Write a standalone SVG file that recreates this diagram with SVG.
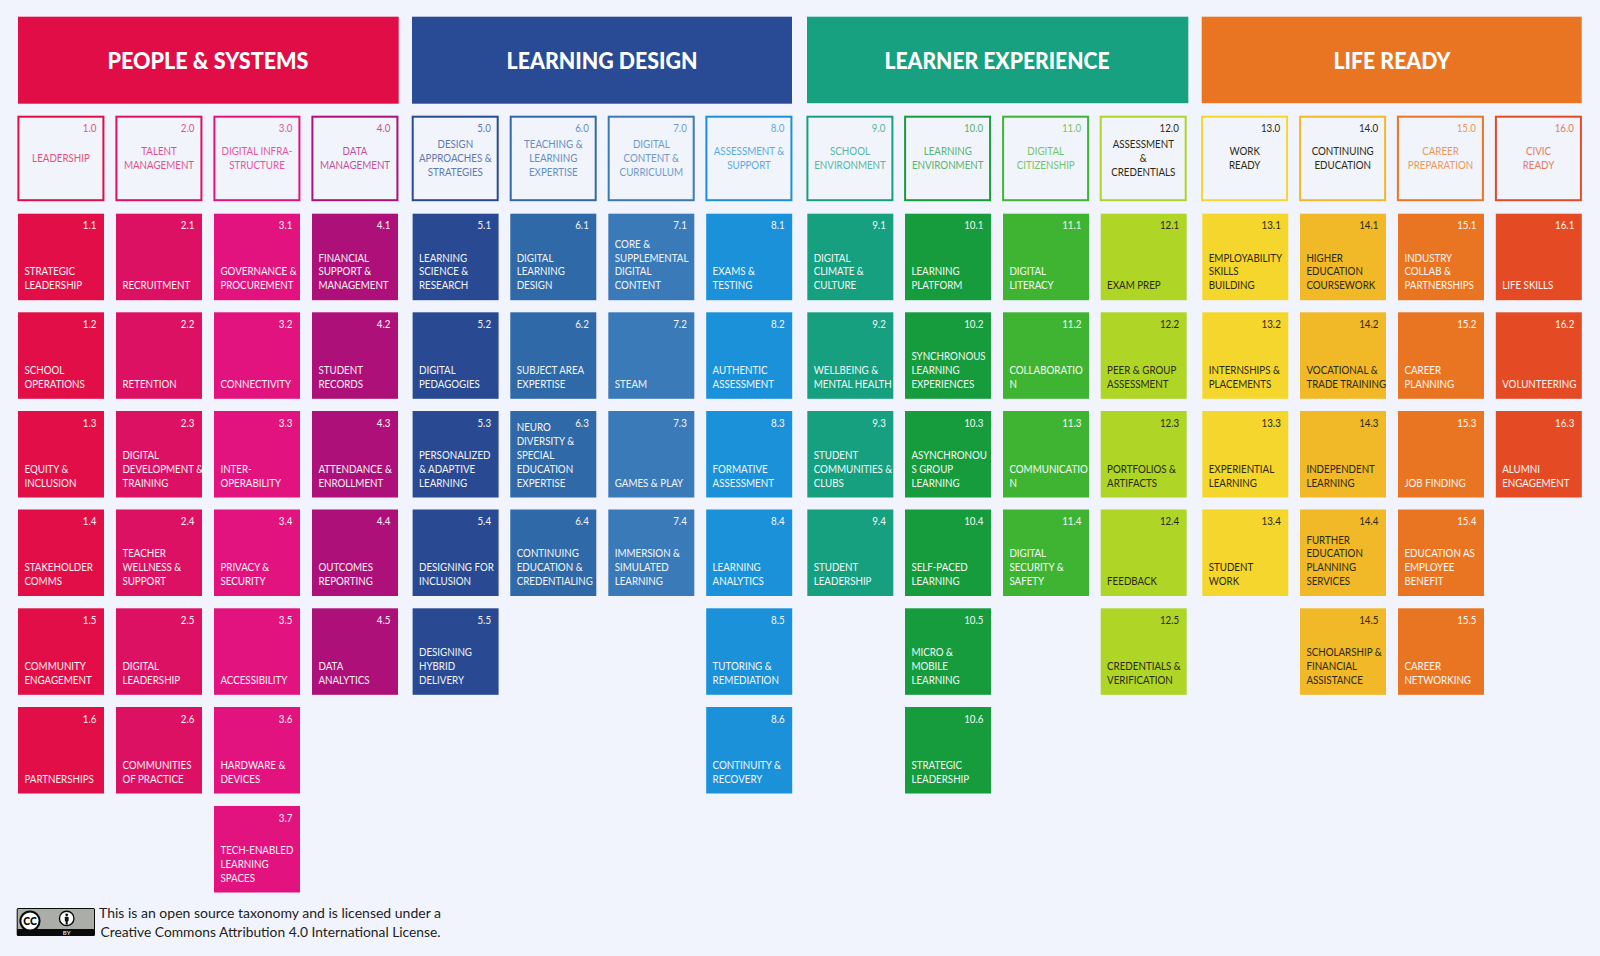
<svg xmlns="http://www.w3.org/2000/svg" width="1600" height="956" viewBox="0 0 1600 956">
<style>
text{font-family:"Lato","Noto Sans",sans-serif;font-size:11.5px}
.h text{font-size:22px;font-weight:900;fill:#fff;text-anchor:middle}
.s rect{fill:#f1f4fb;stroke:currentColor;stroke-width:2}
.s text{fill:currentColor;opacity:.72}
.k rect{fill:currentColor}
.k text{fill:#fff;opacity:.94}
.n{text-anchor:end;transform:translate(78.5px,0) scale(.85,1)}
.l{transform:translate(6.4px,0) scale(.85,1)}
.m{text-anchor:middle;transform:translate(43px,0) scale(.85,1)}
.c1{color:#e20e47}.c2{color:#dd1163}.c3{color:#e2137e}.c4{color:#ae1079}
.c5{color:#294a93}.c6{color:#2f69a8}.c7{color:#3b7ab9}.c8{color:#1a91d9}
.c9{color:#17a07f}.c10{color:#169c3c}.c11{color:#3fb433}.c12{color:#afd527}
.c13{color:#f5d62c}.c14{color:#f1b827}.c15{color:#e97522}.c16{color:#e44b25}
.c12 text,.c13 text,.c14 text{fill:#2b2b14;opacity:1}
.f{font-size:14px;fill:#222}
</style>
<rect width="1600" height="956" fill="#f1f4fc"/>
<g id="header-1" class="h"><rect x="18" y="16.7" width="380.7" height="87" fill="#e00d47"/><text x="208" y="69" textLength="201" lengthAdjust="spacingAndGlyphs">PEOPLE &amp; SYSTEMS</text></g>
<g id="header-2" class="h"><rect x="412" y="16.7" width="380" height="87" fill="#294b95"/><text x="602" y="69" textLength="191" lengthAdjust="spacingAndGlyphs">LEARNING DESIGN</text></g>
<g id="header-3" class="h"><rect x="807" y="16.7" width="381.3" height="86.5" fill="#17a180"/><text x="997" y="68.5" textLength="225" lengthAdjust="spacingAndGlyphs">LEARNER EXPERIENCE</text></g>
<g id="header-4" class="h"><rect x="1201.7" y="16.7" width="380" height="86.5" fill="#e97522"/><text x="1392" y="68.5" textLength="117" lengthAdjust="spacingAndGlyphs">LIFE READY</text></g>

<g id="n1-0" class="s c1" transform="translate(18 115.7)"><rect x=".4" y="1" width="85" height="83.5"/><text class="n" y="16">1.0</text><text class="m" y="46.2">LEADERSHIP</text></g>
<g id="n2-0" class="s c2" transform="translate(116 115.7)"><rect x=".4" y="1" width="85" height="83.5"/><text class="n" y="16">2.0</text><text class="m" y="39.3">TALENT</text><text class="m" y="53">MANAGEMENT</text></g>
<g id="n3-0" class="s c3" transform="translate(214 115.7)"><rect x=".4" y="1" width="85" height="83.5"/><text class="n" y="16">3.0</text><text class="m" y="39.3">DIGITAL INFRA-</text><text class="m" y="53">STRUCTURE</text></g>
<g id="n4-0" class="s c4" transform="translate(312 115.7)"><rect x=".4" y="1" width="85" height="83.5"/><text class="n" y="16">4.0</text><text class="m" y="39.3">DATA</text><text class="m" y="53">MANAGEMENT</text></g>
<g id="n5-0" class="s c5" transform="translate(412.3 115.7)"><rect x=".4" y="1" width="85" height="83.5"/><text class="n" y="16">5.0</text><text class="m" y="32.6">DESIGN</text><text class="m" y="46.4">APPROACHES &amp;</text><text class="m" y="60.2">STRATEGIES</text></g>
<g id="n6-0" class="s c6" transform="translate(510.3 115.7)"><rect x=".4" y="1" width="85" height="83.5"/><text class="n" y="16">6.0</text><text class="m" y="32.6">TEACHING &amp;</text><text class="m" y="46.4">LEARNING</text><text class="m" y="60.2">EXPERTISE</text></g>
<g id="n7-0" class="s c7" transform="translate(608.3 115.7)"><rect x=".4" y="1" width="85" height="83.5"/><text class="n" y="16">7.0</text><text class="m" y="32.6">DIGITAL</text><text class="m" y="46.4">CONTENT &amp;</text><text class="m" y="60.2">CURRICULUM</text></g>
<g id="n8-0" class="s c8" transform="translate(706 115.7)"><rect x=".4" y="1" width="85" height="83.5"/><text class="n" y="16">8.0</text><text class="m" y="39.3">ASSESSMENT &amp;</text><text class="m" y="53">SUPPORT</text></g>
<g id="n9-0" class="s c9" transform="translate(807 115.7)"><rect x=".4" y="1" width="85" height="83.5"/><text class="n" y="16">9.0</text><text class="m" y="39.3">SCHOOL</text><text class="m" y="53">ENVIRONMENT</text></g>
<g id="n10-0" class="s c10" transform="translate(904.7 115.7)"><rect x=".4" y="1" width="85" height="83.5"/><text class="n" y="16">10.0</text><text class="m" y="39.3">LEARNING</text><text class="m" y="53">ENVIRONMENT</text></g>
<g id="n11-0" class="s c11" transform="translate(1002.7 115.7)"><rect x=".4" y="1" width="85" height="83.5"/><text class="n" y="16">11.0</text><text class="m" y="39.3">DIGITAL</text><text class="m" y="53">CITIZENSHIP</text></g>
<g id="n12-0" class="s c12" transform="translate(1100.3 115.7)"><rect x=".4" y="1" width="85" height="83.5"/><text class="n" y="16">12.0</text><text class="m" y="32.6">ASSESSMENT</text><text class="m" y="46.4">&amp;</text><text class="m" y="60.2">CREDENTIALS</text></g>
<g id="n13-0" class="s c13" transform="translate(1201.7 115.7)"><rect x=".4" y="1" width="85" height="83.5"/><text class="n" y="16">13.0</text><text class="m" y="39.3">WORK</text><text class="m" y="53">READY</text></g>
<g id="n14-0" class="s c14" transform="translate(1299.7 115.7)"><rect x=".4" y="1" width="85" height="83.5"/><text class="n" y="16">14.0</text><text class="m" y="39.3">CONTINUING</text><text class="m" y="53">EDUCATION</text></g>
<g id="n15-0" class="s c15" transform="translate(1397.5 115.7)"><rect x=".4" y="1" width="85" height="83.5"/><text class="n" y="16">15.0</text><text class="m" y="39.3">CAREER</text><text class="m" y="53">PREPARATION</text></g>
<g id="n16-0" class="s c16" transform="translate(1495.5 115.7)"><rect x=".4" y="1" width="85" height="83.5"/><text class="n" y="16">16.0</text><text class="m" y="39.3">CIVIC</text><text class="m" y="53">READY</text></g>

<g id="n1-1" class="k c1" transform="translate(18 213.7)"><rect width="86" height="86.5"/><text class="n" y="15.7">1.1</text><text class="l" y="61.8">STRATEGIC</text><text class="l" y="75.6">LEADERSHIP</text></g>
<g id="n1-2" class="k c1" transform="translate(18 312.3)"><rect width="86" height="86.5"/><text class="n" y="15.7">1.2</text><text class="l" y="61.8">SCHOOL</text><text class="l" y="75.6">OPERATIONS</text></g>
<g id="n1-3" class="k c1" transform="translate(18 411)"><rect width="86" height="86.5"/><text class="n" y="15.7">1.3</text><text class="l" y="61.8">EQUITY &amp;</text><text class="l" y="75.6">INCLUSION</text></g>
<g id="n1-4" class="k c1" transform="translate(18 509.5)"><rect width="86" height="86.5"/><text class="n" y="15.7">1.4</text><text class="l" y="61.8">STAKEHOLDER</text><text class="l" y="75.6">COMMS</text></g>
<g id="n1-5" class="k c1" transform="translate(18 608.3)"><rect width="86" height="86.5"/><text class="n" y="15.7">1.5</text><text class="l" y="61.8">COMMUNITY</text><text class="l" y="75.6">ENGAGEMENT</text></g>
<g id="n1-6" class="k c1" transform="translate(18 707)"><rect width="86" height="86.5"/><text class="n" y="15.7">1.6</text><text class="l" y="75.6">PARTNERSHIPS</text></g>

<g id="n2-1" class="k c2" transform="translate(116 213.7)"><rect width="86" height="86.5"/><text class="n" y="15.7">2.1</text><text class="l" y="75.6">RECRUITMENT</text></g>
<g id="n2-2" class="k c2" transform="translate(116 312.3)"><rect width="86" height="86.5"/><text class="n" y="15.7">2.2</text><text class="l" y="75.6">RETENTION</text></g>
<g id="n2-3" class="k c2" transform="translate(116 411)"><rect width="86" height="86.5"/><text class="n" y="15.7">2.3</text><text class="l" y="48">DIGITAL</text><text class="l" y="61.8">DEVELOPMENT &amp;</text><text class="l" y="75.6">TRAINING</text></g>
<g id="n2-4" class="k c2" transform="translate(116 509.5)"><rect width="86" height="86.5"/><text class="n" y="15.7">2.4</text><text class="l" y="48">TEACHER</text><text class="l" y="61.8">WELLNESS &amp;</text><text class="l" y="75.6">SUPPORT</text></g>
<g id="n2-5" class="k c2" transform="translate(116 608.3)"><rect width="86" height="86.5"/><text class="n" y="15.7">2.5</text><text class="l" y="61.8">DIGITAL</text><text class="l" y="75.6">LEADERSHIP</text></g>
<g id="n2-6" class="k c2" transform="translate(116 707)"><rect width="86" height="86.5"/><text class="n" y="15.7">2.6</text><text class="l" y="61.8">COMMUNITIES</text><text class="l" y="75.6">OF PRACTICE</text></g>

<g id="n3-1" class="k c3" transform="translate(214 213.7)"><rect width="86" height="86.5"/><text class="n" y="15.7">3.1</text><text class="l" y="61.8">GOVERNANCE &amp;</text><text class="l" y="75.6">PROCUREMENT</text></g>
<g id="n3-2" class="k c3" transform="translate(214 312.3)"><rect width="86" height="86.5"/><text class="n" y="15.7">3.2</text><text class="l" y="75.6">CONNECTIVITY</text></g>
<g id="n3-3" class="k c3" transform="translate(214 411)"><rect width="86" height="86.5"/><text class="n" y="15.7">3.3</text><text class="l" y="61.8">INTER-</text><text class="l" y="75.6">OPERABILITY</text></g>
<g id="n3-4" class="k c3" transform="translate(214 509.5)"><rect width="86" height="86.5"/><text class="n" y="15.7">3.4</text><text class="l" y="61.8">PRIVACY &amp;</text><text class="l" y="75.6">SECURITY</text></g>
<g id="n3-5" class="k c3" transform="translate(214 608.3)"><rect width="86" height="86.5"/><text class="n" y="15.7">3.5</text><text class="l" y="75.6">ACCESSIBILITY</text></g>
<g id="n3-6" class="k c3" transform="translate(214 707)"><rect width="86" height="86.5"/><text class="n" y="15.7">3.6</text><text class="l" y="61.8">HARDWARE &amp;</text><text class="l" y="75.6">DEVICES</text></g>
<g id="n3-7" class="k c3" transform="translate(214 806)"><rect width="86" height="86.5"/><text class="n" y="15.7">3.7</text><text class="l" y="48">TECH-ENABLED</text><text class="l" y="61.8">LEARNING</text><text class="l" y="75.6">SPACES</text></g>

<g id="n4-1" class="k c4" transform="translate(312 213.7)"><rect width="86" height="86.5"/><text class="n" y="15.7">4.1</text><text class="l" y="48">FINANCIAL</text><text class="l" y="61.8">SUPPORT &amp;</text><text class="l" y="75.6">MANAGEMENT</text></g>
<g id="n4-2" class="k c4" transform="translate(312 312.3)"><rect width="86" height="86.5"/><text class="n" y="15.7">4.2</text><text class="l" y="61.8">STUDENT</text><text class="l" y="75.6">RECORDS</text></g>
<g id="n4-3" class="k c4" transform="translate(312 411)"><rect width="86" height="86.5"/><text class="n" y="15.7">4.3</text><text class="l" y="61.8">ATTENDANCE &amp;</text><text class="l" y="75.6">ENROLLMENT</text></g>
<g id="n4-4" class="k c4" transform="translate(312 509.5)"><rect width="86" height="86.5"/><text class="n" y="15.7">4.4</text><text class="l" y="61.8">OUTCOMES</text><text class="l" y="75.6">REPORTING</text></g>
<g id="n4-5" class="k c4" transform="translate(312 608.3)"><rect width="86" height="86.5"/><text class="n" y="15.7">4.5</text><text class="l" y="61.8">DATA</text><text class="l" y="75.6">ANALYTICS</text></g>

<g id="n5-1" class="k c5" transform="translate(412.6 213.7)"><rect width="86" height="86.5"/><text class="n" y="15.7">5.1</text><text class="l" y="48">LEARNING</text><text class="l" y="61.8">SCIENCE &amp;</text><text class="l" y="75.6">RESEARCH</text></g>
<g id="n5-2" class="k c5" transform="translate(412.6 312.3)"><rect width="86" height="86.5"/><text class="n" y="15.7">5.2</text><text class="l" y="61.8">DIGITAL</text><text class="l" y="75.6">PEDAGOGIES</text></g>
<g id="n5-3" class="k c5" transform="translate(412.6 411)"><rect width="86" height="86.5"/><text class="n" y="15.7">5.3</text><text class="l" y="48">PERSONALIZED</text><text class="l" y="61.8">&amp; ADAPTIVE</text><text class="l" y="75.6">LEARNING</text></g>
<g id="n5-4" class="k c5" transform="translate(412.6 509.5)"><rect width="86" height="86.5"/><text class="n" y="15.7">5.4</text><text class="l" y="61.8">DESIGNING FOR</text><text class="l" y="75.6">INCLUSION</text></g>
<g id="n5-5" class="k c5" transform="translate(412.6 608.3)"><rect width="86" height="86.5"/><text class="n" y="15.7">5.5</text><text class="l" y="48">DESIGNING</text><text class="l" y="61.8">HYBRID</text><text class="l" y="75.6">DELIVERY</text></g>

<g id="n6-1" class="k c6" transform="translate(510.3 213.7)"><rect width="86" height="86.5"/><text class="n" y="15.7">6.1</text><text class="l" y="48">DIGITAL</text><text class="l" y="61.8">LEARNING</text><text class="l" y="75.6">DESIGN</text></g>
<g id="n6-2" class="k c6" transform="translate(510.3 312.3)"><rect width="86" height="86.5"/><text class="n" y="15.7">6.2</text><text class="l" y="61.8">SUBJECT AREA</text><text class="l" y="75.6">EXPERTISE</text></g>
<g id="n6-3" class="k c6" transform="translate(510.3 411)"><rect width="86" height="86.5"/><text class="n" y="15.7">6.3</text><text class="l" y="20.4">NEURO</text><text class="l" y="34.2">DIVERSITY &amp;</text><text class="l" y="48">SPECIAL</text><text class="l" y="61.8">EDUCATION</text><text class="l" y="75.6">EXPERTISE</text></g>
<g id="n6-4" class="k c6" transform="translate(510.3 509.5)"><rect width="86" height="86.5"/><text class="n" y="15.7">6.4</text><text class="l" y="48">CONTINUING</text><text class="l" y="61.8">EDUCATION &amp;</text><text class="l" y="75.6">CREDENTIALING</text></g>

<g id="n7-1" class="k c7" transform="translate(608.3 213.7)"><rect width="86" height="86.5"/><text class="n" y="15.7">7.1</text><text class="l" y="34.2">CORE &amp;</text><text class="l" y="48">SUPPLEMENTAL</text><text class="l" y="61.8">DIGITAL</text><text class="l" y="75.6">CONTENT</text></g>
<g id="n7-2" class="k c7" transform="translate(608.3 312.3)"><rect width="86" height="86.5"/><text class="n" y="15.7">7.2</text><text class="l" y="75.6">STEAM</text></g>
<g id="n7-3" class="k c7" transform="translate(608.3 411)"><rect width="86" height="86.5"/><text class="n" y="15.7">7.3</text><text class="l" y="75.6">GAMES &amp; PLAY</text></g>
<g id="n7-4" class="k c7" transform="translate(608.3 509.5)"><rect width="86" height="86.5"/><text class="n" y="15.7">7.4</text><text class="l" y="48">IMMERSION &amp;</text><text class="l" y="61.8">SIMULATED</text><text class="l" y="75.6">LEARNING</text></g>

<g id="n8-1" class="k c8" transform="translate(706.2 213.7)"><rect width="86" height="86.5"/><text class="n" y="15.7">8.1</text><text class="l" y="61.8">EXAMS &amp;</text><text class="l" y="75.6">TESTING</text></g>
<g id="n8-2" class="k c8" transform="translate(706.2 312.3)"><rect width="86" height="86.5"/><text class="n" y="15.7">8.2</text><text class="l" y="61.8">AUTHENTIC</text><text class="l" y="75.6">ASSESSMENT</text></g>
<g id="n8-3" class="k c8" transform="translate(706.2 411)"><rect width="86" height="86.5"/><text class="n" y="15.7">8.3</text><text class="l" y="61.8">FORMATIVE</text><text class="l" y="75.6">ASSESSMENT</text></g>
<g id="n8-4" class="k c8" transform="translate(706.2 509.5)"><rect width="86" height="86.5"/><text class="n" y="15.7">8.4</text><text class="l" y="61.8">LEARNING</text><text class="l" y="75.6">ANALYTICS</text></g>
<g id="n8-5" class="k c8" transform="translate(706.2 608.3)"><rect width="86" height="86.5"/><text class="n" y="15.7">8.5</text><text class="l" y="61.8">TUTORING &amp;</text><text class="l" y="75.6">REMEDIATION</text></g>
<g id="n8-6" class="k c8" transform="translate(706.2 707)"><rect width="86" height="86.5"/><text class="n" y="15.7">8.6</text><text class="l" y="61.8">CONTINUITY &amp;</text><text class="l" y="75.6">RECOVERY</text></g>

<g id="n9-1" class="k c9" transform="translate(807.3 213.7)"><rect width="86" height="86.5"/><text class="n" y="15.7">9.1</text><text class="l" y="48">DIGITAL</text><text class="l" y="61.8">CLIMATE &amp;</text><text class="l" y="75.6">CULTURE</text></g>
<g id="n9-2" class="k c9" transform="translate(807.3 312.3)"><rect width="86" height="86.5"/><text class="n" y="15.7">9.2</text><text class="l" y="61.8">WELLBEING &amp;</text><text class="l" y="75.6">MENTAL HEALTH</text></g>
<g id="n9-3" class="k c9" transform="translate(807.3 411)"><rect width="86" height="86.5"/><text class="n" y="15.7">9.3</text><text class="l" y="48">STUDENT</text><text class="l" y="61.8">COMMUNITIES &amp;</text><text class="l" y="75.6">CLUBS</text></g>
<g id="n9-4" class="k c9" transform="translate(807.3 509.5)"><rect width="86" height="86.5"/><text class="n" y="15.7">9.4</text><text class="l" y="61.8">STUDENT</text><text class="l" y="75.6">LEADERSHIP</text></g>

<g id="n10-1" class="k c10" transform="translate(905 213.7)"><rect width="86" height="86.5"/><text class="n" y="15.7">10.1</text><text class="l" y="61.8">LEARNING</text><text class="l" y="75.6">PLATFORM</text></g>
<g id="n10-2" class="k c10" transform="translate(905 312.3)"><rect width="86" height="86.5"/><text class="n" y="15.7">10.2</text><text class="l" y="48">SYNCHRONOUS</text><text class="l" y="61.8">LEARNING</text><text class="l" y="75.6">EXPERIENCES</text></g>
<g id="n10-3" class="k c10" transform="translate(905 411)"><rect width="86" height="86.5"/><text class="n" y="15.7">10.3</text><text class="l" y="48">ASYNCHRONOU</text><text class="l" y="61.8">S GROUP</text><text class="l" y="75.6">LEARNING</text></g>
<g id="n10-4" class="k c10" transform="translate(905 509.5)"><rect width="86" height="86.5"/><text class="n" y="15.7">10.4</text><text class="l" y="61.8">SELF-PACED</text><text class="l" y="75.6">LEARNING</text></g>
<g id="n10-5" class="k c10" transform="translate(905 608.3)"><rect width="86" height="86.5"/><text class="n" y="15.7">10.5</text><text class="l" y="48">MICRO &amp;</text><text class="l" y="61.8">MOBILE</text><text class="l" y="75.6">LEARNING</text></g>
<g id="n10-6" class="k c10" transform="translate(905 707)"><rect width="86" height="86.5"/><text class="n" y="15.7">10.6</text><text class="l" y="61.8">STRATEGIC</text><text class="l" y="75.6">LEADERSHIP</text></g>

<g id="n11-1" class="k c11" transform="translate(1003 213.7)"><rect width="86" height="86.5"/><text class="n" y="15.7">11.1</text><text class="l" y="61.8">DIGITAL</text><text class="l" y="75.6">LITERACY</text></g>
<g id="n11-2" class="k c11" transform="translate(1003 312.3)"><rect width="86" height="86.5"/><text class="n" y="15.7">11.2</text><text class="l" y="61.8">COLLABORATIO</text><text class="l" y="75.6">N</text></g>
<g id="n11-3" class="k c11" transform="translate(1003 411)"><rect width="86" height="86.5"/><text class="n" y="15.7">11.3</text><text class="l" y="61.8">COMMUNICATIO</text><text class="l" y="75.6">N</text></g>
<g id="n11-4" class="k c11" transform="translate(1003 509.5)"><rect width="86" height="86.5"/><text class="n" y="15.7">11.4</text><text class="l" y="48">DIGITAL</text><text class="l" y="61.8">SECURITY &amp;</text><text class="l" y="75.6">SAFETY</text></g>

<g id="n12-1" class="k c12" transform="translate(1100.7 213.7)"><rect width="86" height="86.5"/><text class="n" y="15.7">12.1</text><text class="l" y="75.6">EXAM PREP</text></g>
<g id="n12-2" class="k c12" transform="translate(1100.7 312.3)"><rect width="86" height="86.5"/><text class="n" y="15.7">12.2</text><text class="l" y="61.8">PEER &amp; GROUP</text><text class="l" y="75.6">ASSESSMENT</text></g>
<g id="n12-3" class="k c12" transform="translate(1100.7 411)"><rect width="86" height="86.5"/><text class="n" y="15.7">12.3</text><text class="l" y="61.8">PORTFOLIOS &amp;</text><text class="l" y="75.6">ARTIFACTS</text></g>
<g id="n12-4" class="k c12" transform="translate(1100.7 509.5)"><rect width="86" height="86.5"/><text class="n" y="15.7">12.4</text><text class="l" y="75.6">FEEDBACK</text></g>
<g id="n12-5" class="k c12" transform="translate(1100.7 608.3)"><rect width="86" height="86.5"/><text class="n" y="15.7">12.5</text><text class="l" y="61.8">CREDENTIALS &amp;</text><text class="l" y="75.6">VERIFICATION</text></g>

<g id="n13-1" class="k c13" transform="translate(1202.3 213.7)"><rect width="86" height="86.5"/><text class="n" y="15.7">13.1</text><text class="l" y="48">EMPLOYABILITY</text><text class="l" y="61.8">SKILLS</text><text class="l" y="75.6">BUILDING</text></g>
<g id="n13-2" class="k c13" transform="translate(1202.3 312.3)"><rect width="86" height="86.5"/><text class="n" y="15.7">13.2</text><text class="l" y="61.8">INTERNSHIPS &amp;</text><text class="l" y="75.6">PLACEMENTS</text></g>
<g id="n13-3" class="k c13" transform="translate(1202.3 411)"><rect width="86" height="86.5"/><text class="n" y="15.7">13.3</text><text class="l" y="61.8">EXPERIENTIAL</text><text class="l" y="75.6">LEARNING</text></g>
<g id="n13-4" class="k c13" transform="translate(1202.3 509.5)"><rect width="86" height="86.5"/><text class="n" y="15.7">13.4</text><text class="l" y="61.8">STUDENT</text><text class="l" y="75.6">WORK</text></g>

<g id="n14-1" class="k c14" transform="translate(1300 213.7)"><rect width="86" height="86.5"/><text class="n" y="15.7">14.1</text><text class="l" y="48">HIGHER</text><text class="l" y="61.8">EDUCATION</text><text class="l" y="75.6">COURSEWORK</text></g>
<g id="n14-2" class="k c14" transform="translate(1300 312.3)"><rect width="86" height="86.5"/><text class="n" y="15.7">14.2</text><text class="l" y="61.8">VOCATIONAL &amp;</text><text class="l" y="75.6">TRADE TRAINING</text></g>
<g id="n14-3" class="k c14" transform="translate(1300 411)"><rect width="86" height="86.5"/><text class="n" y="15.7">14.3</text><text class="l" y="61.8">INDEPENDENT</text><text class="l" y="75.6">LEARNING</text></g>
<g id="n14-4" class="k c14" transform="translate(1300 509.5)"><rect width="86" height="86.5"/><text class="n" y="15.7">14.4</text><text class="l" y="34.2">FURTHER</text><text class="l" y="48">EDUCATION</text><text class="l" y="61.8">PLANNING</text><text class="l" y="75.6">SERVICES</text></g>
<g id="n14-5" class="k c14" transform="translate(1300 608.3)"><rect width="86" height="86.5"/><text class="n" y="15.7">14.5</text><text class="l" y="48">SCHOLARSHIP &amp;</text><text class="l" y="61.8">FINANCIAL</text><text class="l" y="75.6">ASSISTANCE</text></g>

<g id="n15-1" class="k c15" transform="translate(1398 213.7)"><rect width="86" height="86.5"/><text class="n" y="15.7">15.1</text><text class="l" y="48">INDUSTRY</text><text class="l" y="61.8">COLLAB &amp;</text><text class="l" y="75.6">PARTNERSHIPS</text></g>
<g id="n15-2" class="k c15" transform="translate(1398 312.3)"><rect width="86" height="86.5"/><text class="n" y="15.7">15.2</text><text class="l" y="61.8">CAREER</text><text class="l" y="75.6">PLANNING</text></g>
<g id="n15-3" class="k c15" transform="translate(1398 411)"><rect width="86" height="86.5"/><text class="n" y="15.7">15.3</text><text class="l" y="75.6">JOB FINDING</text></g>
<g id="n15-4" class="k c15" transform="translate(1398 509.5)"><rect width="86" height="86.5"/><text class="n" y="15.7">15.4</text><text class="l" y="48">EDUCATION AS</text><text class="l" y="61.8">EMPLOYEE</text><text class="l" y="75.6">BENEFIT</text></g>
<g id="n15-5" class="k c15" transform="translate(1398 608.3)"><rect width="86" height="86.5"/><text class="n" y="15.7">15.5</text><text class="l" y="61.8">CAREER</text><text class="l" y="75.6">NETWORKING</text></g>

<g id="n16-1" class="k c16" transform="translate(1495.8 213.7)"><rect width="86" height="86.5"/><text class="n" y="15.7">16.1</text><text class="l" y="75.6">LIFE SKILLS</text></g>
<g id="n16-2" class="k c16" transform="translate(1495.8 312.3)"><rect width="86" height="86.5"/><text class="n" y="15.7">16.2</text><text class="l" y="75.6">VOLUNTEERING</text></g>
<g id="n16-3" class="k c16" transform="translate(1495.8 411)"><rect width="86" height="86.5"/><text class="n" y="15.7">16.3</text><text class="l" y="61.8">ALUMNI</text><text class="l" y="75.6">ENGAGEMENT</text></g>

<g id="license">
<rect x="16.7" y="908" width="78.3" height="28" rx="1.5" fill="#0b0b0b"/>
<rect x="17.7" y="909" width="76.3" height="20" fill="#aaada8"/>
<circle cx="30" cy="921" r="10.6" fill="#0b0b0b"/>
<circle cx="30" cy="921" r="8.6" fill="#fff"/>
<text x="30" y="924.6" text-anchor="middle" style="font-size:10.5px;font-weight:900;fill:#000">CC</text>
<circle cx="66.7" cy="918.4" r="7.2" fill="#fff" stroke="#0b0b0b" stroke-width="1.4"/>
<circle cx="66.7" cy="914.8" r="1.4" fill="#0b0b0b"/>
<rect x="64.8" y="916.8" width="3.8" height="4.4" rx=".8" fill="#0b0b0b"/>
<rect x="65.7" y="921" width="2" height="3.6" fill="#0b0b0b"/>
<text x="66.7" y="934.7" text-anchor="middle" style="font-size:6px;font-weight:700;fill:#ddd">BY</text>
<text class="f" x="99" y="918" textLength="342" lengthAdjust="spacingAndGlyphs">This is an open source taxonomy and is licensed under a</text>
<text class="f" x="100.6" y="936.5" textLength="340" lengthAdjust="spacingAndGlyphs">Creative Commons Attribution 4.0 International License.</text>
</g>
</svg>
